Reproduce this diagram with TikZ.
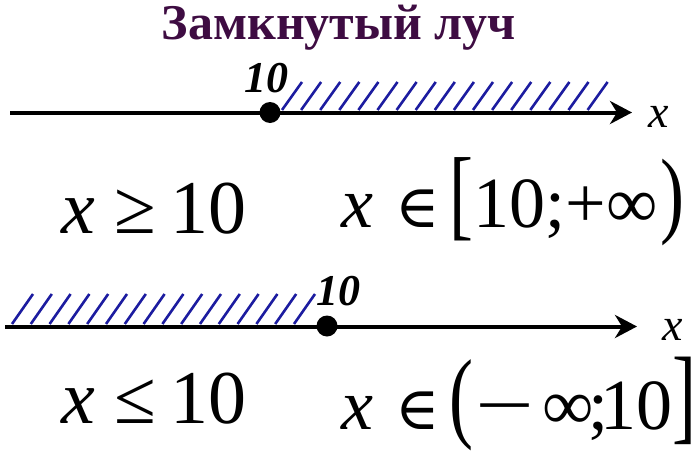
\documentclass[tikz,border=0pt]{standalone}
\usepackage{fontspec}
\setmainfont{Liberation Serif}
\newfontfamily\symbfont{DejaVu Serif}
\usetikzlibrary{arrows.meta,positioning}
\definecolor{titlepurple}{RGB}{62,12,66}
\definecolor{hatchblue}{RGB}{28,28,160}
\newcommand{\tallbr}[3]{\raisebox{#2}{\scalebox{1}[#1]{#3}}}
\newcommand{\elemof}{{\symbfont\fontsize{60}{60}\selectfont ∈}}

\begin{document}
\begin{tikzpicture}[x=1pt,y=1pt]
            \tikzstyle{every node}+=[inner sep=0pt]
            \tikzstyle{axis}=[line width=4pt,-{Stealth[length=22pt,width=23pt,inset=7pt]}]
            \tikzstyle{hatch}=[hatchblue,line width=2.6pt]
            \tikzstyle{point}=[circle,fill=black,minimum size=21pt]
            \tikzstyle{pointlabel}=[font=\fontsize{44}{44}\selectfont\bfseries\itshape,anchor=base west]
            \tikzstyle{axislabel}=[font=\fontsize{46}{46}\selectfont\itshape,anchor=base west]
            \tikzstyle{ineq}=[font=\fontsize{76}{76}\selectfont,anchor=base west]
            \tikzstyle{formula}=[font=\fontsize{72}{72}\selectfont,anchor=base west]
            \useasboundingbox (0,0) rectangle (700,-452);
            % title
            \node[font=\fontsize{50}{50}\selectfont\bfseries,text=titlepurple,anchor=base] (title) at (339,-40) {Замкнутый луч};
            % first ray: x >= 10
            \coordinate (startA) at (10,-112.5);
            \coordinate (endA) at (632,-112.5);
            \foreach \i in {0,...,16}
                \draw [hatch] (282+19.1*\i,-110) -- ++(20,28);
            \draw [axis] (startA) -- (endA);
            \node[point] (pointA) at (270,-112.5) {};
            \node[pointlabel] (labelA) at (244,-92) {10};
            \node[axislabel] (axisA) at (648,-127) {x};
            \node[ineq] (ineqA) at (61,-233) {\textit{x}\hspace{20pt}≥\hspace{14pt}10};
            \node[formula] (setA) at (341,-227) {\textit{x}\hspace{22pt}\elemof\hspace{10pt}\tallbr{1.4}{0pt}{[}10;+∞\hspace{3pt}\tallbr{1.33}{1.5pt}{)}};
            % second ray: x <= 10
            \coordinate (startB) at (5,-326.5);
            \coordinate (endB) at (637,-326.5);
            \foreach \i in {0,...,15}
                \draw [hatch] (12+18.8*\i,-324) -- ++(21,30);
            \draw [axis] (startB) -- (endB);
            \node[point] (pointB) at (327,-326) {};
            \node[pointlabel] (labelB) at (316,-305) {10};
            \node[axislabel] (axisB) at (662,-340) {x};
            \node[ineq] (ineqB) at (61,-423) {\textit{x}\hspace{20pt}≤\hspace{14pt}10};
            \node[formula] (setB) at (341,-429) {\textit{x}\hspace{22pt}\elemof\hspace{10pt}\tallbr{1.4}{0pt}{(}\hspace{2pt}\scalebox{1.45}[1]{−}\hspace{8pt}∞\kern-5pt;\kern-8pt10\tallbr{1.47}{-1.5pt}{]}};
\end{tikzpicture}
\end{document}
